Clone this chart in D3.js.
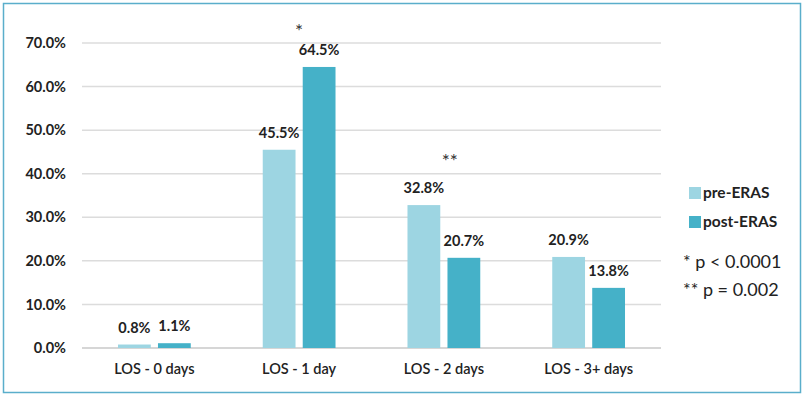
<!DOCTYPE html>
<html>
<head>
<meta charset="utf-8">
<script src="https://cdn.jsdelivr.net/npm/d3@7"></script>
<style>
  body { margin: 0; background: #fff; }
  svg text { font-family: Lato, "Open Sans", sans-serif; }
</style>
</head>
<body>
<div id="chart"></div>
<script>
const categories = ["LOS - 0 days", "LOS - 1 day", "LOS - 2 days", "LOS - 3+ days"];
const seriesNames = ["pre-ERAS", "post-ERAS"];
const preEras = [0.8, 45.5, 32.8, 20.9];
const postEras = [1.1, 64.5, 20.7, 13.8];
const yTicks = [0, 10, 20, 30, 40, 50, 60, 70];
const significance = [
  {category: "LOS - 1 day", mark: "*"},
  {category: "LOS - 2 days", mark: "**"}
];
const footnotes = ["* p < 0.0001", "** p = 0.002"];

const width = 806;
const height = 397;
const colors = ["#9dd5e2", "#45b1c8"];

// Build rows for the grouped bars
const rows = categories.map((c, i) => ({
  category: c,
  values: [preEras[i], postEras[i]]
}));

const svg = d3.select("#chart")
  .append("svg")
  .attr("width", width)
  .attr("height", height);

// Outer frame
svg.append("rect")
  .attr("x", 3.5)
  .attr("y", 3.5)
  .attr("width", 797)
  .attr("height", 389)
  .attr("fill", "none")
  .attr("stroke", "#5aaecb")
  .attr("stroke-width", 1.5);

const plot = {left: 82, right: 661, top: 43, bottom: 348};

const y = d3.scaleLinear()
  .domain([0, 70])
  .range([plot.bottom, plot.top]);

const x0 = d3.scaleBand()
  .domain(categories)
  .range([plot.left, plot.right])
  .padding(0);

const x1 = d3.scaleBand()
  .domain(seriesNames)
  .range([0, x0.bandwidth()])
  .paddingInner(0.18)
  .paddingOuter(0.9);

// Gridlines
svg.append("g")
  .selectAll("line")
  .data(yTicks)
  .enter().append("line")
  .attr("x1", plot.left)
  .attr("x2", plot.right)
  .attr("y1", d => y(d))
  .attr("y2", d => y(d))
  .attr("stroke", d => d === 0 ? "#c8c8c8" : "#dcdcdc")
  .attr("stroke-width", 1.5);

// Y axis labels
const yAxis = svg.append("g")
  .attr("transform", `translate(${plot.left - 16},0)`)
  .call(d3.axisLeft(y).tickValues(yTicks).tickSize(0).tickFormat(d => d.toFixed(1) + "%"));
yAxis.select(".domain").remove();
yAxis.selectAll("text")
  .attr("x", 0)
  .attr("font-size", 14.5)
  .attr("font-weight", "bold")
  .attr("fill", "#222")
  .style("font-family", "Lato, sans-serif");

// Bars
const groups = svg.append("g")
  .selectAll("g")
  .data(rows)
  .enter().append("g")
  .attr("transform", d => `translate(${x0(d.category)},0)`);

groups.selectAll("rect")
  .data(d => d.values.map((v, i) => ({series: seriesNames[i], value: v, idx: i})))
  .enter().append("rect")
  .attr("x", d => x1(d.series))
  .attr("width", x1.bandwidth())
  .attr("y", d => y(d.value))
  .attr("height", d => y(0) - y(d.value))
  .attr("fill", d => colors[d.idx]);

// Value labels
groups.selectAll("text.value")
  .data(d => d.values.map((v, i) => ({series: seriesNames[i], value: v})))
  .enter().append("text")
  .attr("class", "value")
  .attr("x", d => x1(d.series) + x1.bandwidth() / 2)
  .attr("y", d => y(d.value) - 12)
  .attr("text-anchor", "middle")
  .attr("font-size", 14.5)
  .attr("font-weight", "bold")
  .attr("fill", "#222")
  .text(d => d.value.toFixed(1) + "%");

// Significance marks
svg.append("g")
  .selectAll("text")
  .data(significance)
  .enter().append("text")
  .attr("x", d => x0(d.category) + x0.bandwidth() / 2 + (d.mark.length > 1 ? 6 : 0))
  .attr("y", d => {
    const i = categories.indexOf(d.category);
    return y(d3.max([preEras[i], postEras[i]])) - (d.mark.length > 1 ? 37 : 29);
  })
  .attr("text-anchor", "middle")
  .attr("font-size", 19)
  .attr("fill", "#333")
  .text(d => d.mark);

// Category labels
svg.append("g")
  .selectAll("text")
  .data(categories)
  .enter().append("text")
  .attr("x", d => x0(d) + x0.bandwidth() / 2)
  .attr("y", plot.bottom + 26)
  .attr("text-anchor", "middle")
  .attr("font-size", 14.5)
  .attr("font-weight", 600)
  .attr("fill", "#222")
  .text(d => d);

// Legend
const legend = svg.append("g")
  .attr("transform", "translate(689,187)");

const legendItems = legend.selectAll("g")
  .data(seriesNames)
  .enter().append("g")
  .attr("transform", (d, i) => `translate(0,${i * 29})`);

legendItems.append("rect")
  .attr("width", 12)
  .attr("height", 12)
  .attr("fill", (d, i) => colors[i]);

legendItems.append("text")
  .attr("x", 14)
  .attr("y", 11)
  .attr("font-size", 15.5)
  .attr("font-weight", "bold")
  .attr("fill", "#222")
  .text(d => d);

// p-value footnotes
svg.append("g")
  .selectAll("text")
  .data(footnotes)
  .enter().append("text")
  .attr("x", 683)
  .attr("y", (d, i) => 268 + i * 28)
  .attr("font-size", 18)
  .attr("fill", "#222")
  .text(d => d);
</script>
</body>
</html>
